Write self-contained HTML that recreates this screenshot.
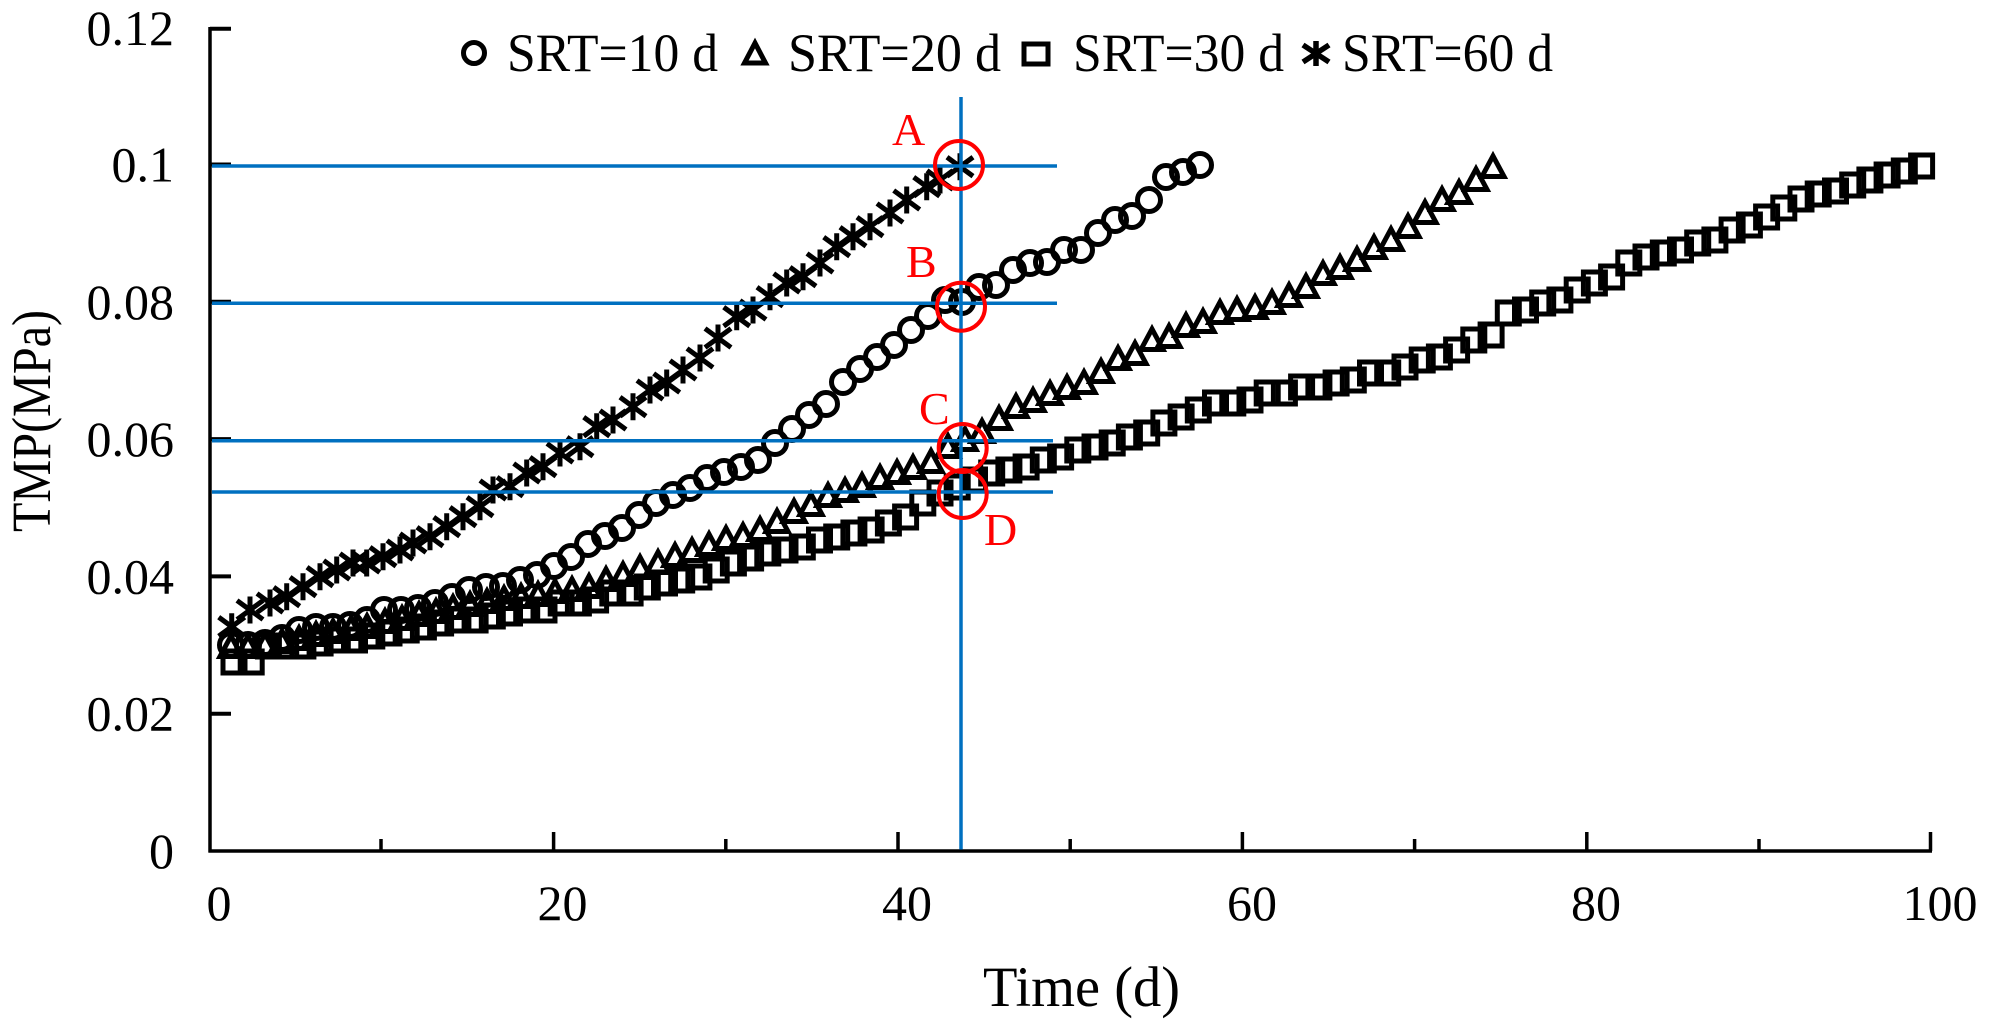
<!DOCTYPE html>
<html>
<head>
<meta charset="utf-8">
<style>
  html, body { margin: 0; padding: 0; background: #fff; }
  svg { display: block; }
  text { font-family: "Liberation Serif", "Times New Roman", serif; fill: #000; }
</style>
</head>
<body>
<svg width="1991" height="1024" viewBox="0 0 1991 1024" xmlns="http://www.w3.org/2000/svg" xmlns:xlink="http://www.w3.org/1999/xlink">
  <rect x="0" y="0" width="1991" height="1024" fill="#fff"/>
  <defs>
    <circle id="c" r="11.5" fill="none" stroke="#000" stroke-width="5"/>
    <path id="t" d="M0,-9 L-11,11.5 L11,11.5 Z" fill="none" stroke="#000" stroke-width="5" stroke-linejoin="miter"/>
    <rect id="s" x="-11" y="-11" width="22" height="22" fill="none" stroke="#000" stroke-width="5"/>
    <path id="a" d="M0,-13.5V13.5M-13,-9.5L13,9.5M-13,9.5L13,-9.5" fill="none" stroke="#000" stroke-width="5"/>
  </defs>

  <!-- Axes -->
  <line x1="210" y1="27" x2="210" y2="852.5" stroke="#000" stroke-width="3.5"/>
  <line x1="208.5" y1="851" x2="1932" y2="851" stroke="#000" stroke-width="3.5"/>
  <!-- Y ticks -->
  <g stroke="#000" stroke-width="4">
    <line x1="210" y1="713.7" x2="231" y2="713.7"/>
    <line x1="210" y1="576.4" x2="231" y2="576.4"/>
    <line x1="210" y1="439.1" x2="231" y2="439.1"/>
    <line x1="210" y1="301.8" x2="231" y2="301.8"/>
    <line x1="210" y1="164.5" x2="231" y2="164.5"/>
    <line x1="210" y1="28.7" x2="231" y2="28.7"/>
  </g>
  <!-- X ticks -->
  <g stroke="#000" stroke-width="3.5">
    <line x1="381" y1="851" x2="381" y2="839"/>
    <line x1="553.6" y1="851" x2="553.6" y2="832"/>
    <line x1="725.8" y1="851" x2="725.8" y2="839"/>
    <line x1="898" y1="851" x2="898" y2="832"/>
    <line x1="1070.2" y1="851" x2="1070.2" y2="839"/>
    <line x1="1242.4" y1="851" x2="1242.4" y2="832"/>
    <line x1="1414.6" y1="851" x2="1414.6" y2="839"/>
    <line x1="1586.8" y1="851" x2="1586.8" y2="832"/>
    <line x1="1759" y1="851" x2="1759" y2="839"/>
    <line x1="1930.5" y1="851" x2="1930.5" y2="832"/>
  </g>

  <!-- Y tick labels -->
  <g font-size="50" text-anchor="end">
    <text x="174" y="868">0</text>
    <text x="174" y="730.7">0.02</text>
    <text x="174" y="593.4">0.04</text>
    <text x="174" y="456.1">0.06</text>
    <text x="174" y="318.8">0.08</text>
    <text x="174" y="181.5">0.1</text>
    <text x="174" y="45.2">0.12</text>
  </g>
  <!-- X tick labels -->
  <g font-size="50" text-anchor="middle">
    <text x="219" y="920">0</text>
    <text x="562.5" y="920">20</text>
    <text x="907" y="920">40</text>
    <text x="1252" y="920">60</text>
    <text x="1596" y="920">80</text>
    <text x="1940" y="920">100</text>
  </g>

  <!-- Axis titles -->
  <text x="983" y="1006" font-size="57" textLength="197" lengthAdjust="spacingAndGlyphs">Time (d)</text>
  <text transform="translate(50,421) rotate(-90)" x="0" y="0" font-size="55" text-anchor="middle" textLength="222" lengthAdjust="spacingAndGlyphs">TMP(MPa)</text>

  <!-- Legend -->
  <circle cx="474" cy="53" r="10.5" fill="none" stroke="#000" stroke-width="5"/>
  <text x="507" y="71" font-size="54" textLength="211" lengthAdjust="spacingAndGlyphs">SRT=10 d</text>
  <path d="M755,43 L744.5,63 L765.5,63 Z" fill="none" stroke="#000" stroke-width="5"/>
  <text x="788" y="71" font-size="54" textLength="213" lengthAdjust="spacingAndGlyphs">SRT=20 d</text>
  <rect x="1024" y="44" width="24" height="20" fill="none" stroke="#000" stroke-width="5"/>
  <text x="1073" y="71" font-size="54" textLength="211" lengthAdjust="spacingAndGlyphs">SRT=30 d</text>
  <path d="M1316,41V66M1303,45L1329,62M1303,62L1329,45" fill="none" stroke="#000" stroke-width="5.5"/>
  <text x="1342" y="71" font-size="54" textLength="211" lengthAdjust="spacingAndGlyphs">SRT=60 d</text>

  <!-- SRT=30 squares -->
  <g>
    <use href="#s" x="234" y="662"/><use href="#s" x="251.2" y="662"/><use href="#s" x="268.4" y="646"/><use href="#s" x="285.7" y="646"/><use href="#s" x="302.9" y="646"/>
    <use href="#s" x="320.1" y="643"/><use href="#s" x="337.3" y="640"/><use href="#s" x="354.5" y="640"/><use href="#s" x="371.8" y="636"/><use href="#s" x="389" y="633"/>
    <use href="#s" x="406.2" y="630"/><use href="#s" x="423.4" y="627"/><use href="#s" x="440.6" y="623"/><use href="#s" x="457.9" y="620"/><use href="#s" x="475.1" y="620"/>
    <use href="#s" x="492.3" y="616"/><use href="#s" x="509.5" y="613"/><use href="#s" x="526.7" y="610"/><use href="#s" x="544" y="610"/><use href="#s" x="561.2" y="603"/>
    <use href="#s" x="578.4" y="603"/><use href="#s" x="595.6" y="600"/><use href="#s" x="612.8" y="593"/><use href="#s" x="630.1" y="593"/><use href="#s" x="647.3" y="587"/>
    <use href="#s" x="664.5" y="583"/><use href="#s" x="681.7" y="580"/><use href="#s" x="698.9" y="577"/><use href="#s" x="716.2" y="570"/><use href="#s" x="733.4" y="563"/>
    <use href="#s" x="750.6" y="558"/><use href="#s" x="767.8" y="553"/><use href="#s" x="785" y="550"/><use href="#s" x="802.3" y="547"/><use href="#s" x="819.5" y="540"/>
    <use href="#s" x="836.7" y="537"/><use href="#s" x="853.9" y="533"/><use href="#s" x="871.1" y="530"/><use href="#s" x="888.4" y="523"/><use href="#s" x="905.6" y="517"/>
    <use href="#s" x="922.8" y="503"/><use href="#s" x="940" y="493"/><use href="#s" x="957.2" y="487"/><use href="#s" x="974.5" y="480"/><use href="#s" x="991.7" y="473"/>
    <use href="#s" x="1008.9" y="470"/><use href="#s" x="1026.1" y="467"/><use href="#s" x="1043.3" y="460"/><use href="#s" x="1060.6" y="457"/><use href="#s" x="1077.8" y="450"/>
    <use href="#s" x="1095" y="447"/><use href="#s" x="1112.2" y="443"/><use href="#s" x="1129.4" y="437"/><use href="#s" x="1146.7" y="433"/><use href="#s" x="1163.9" y="423"/>
    <use href="#s" x="1181.1" y="417"/><use href="#s" x="1198.3" y="410"/><use href="#s" x="1215.5" y="403"/><use href="#s" x="1232.8" y="403"/><use href="#s" x="1250" y="400"/>
    <use href="#s" x="1267.2" y="393"/><use href="#s" x="1284.4" y="393"/><use href="#s" x="1301.6" y="387"/><use href="#s" x="1318.9" y="387"/><use href="#s" x="1336.1" y="383"/>
    <use href="#s" x="1353.3" y="380"/><use href="#s" x="1370.5" y="373"/><use href="#s" x="1387.7" y="373"/><use href="#s" x="1405" y="367"/><use href="#s" x="1422.2" y="360"/>
    <use href="#s" x="1439.4" y="357"/><use href="#s" x="1456.6" y="350"/><use href="#s" x="1473.8" y="340"/><use href="#s" x="1491.1" y="335"/><use href="#s" x="1508.3" y="313"/>
    <use href="#s" x="1525.5" y="310"/><use href="#s" x="1542.7" y="303"/><use href="#s" x="1559.9" y="300"/><use href="#s" x="1577.2" y="290"/><use href="#s" x="1594.4" y="283"/>
    <use href="#s" x="1611.6" y="277"/><use href="#s" x="1628.8" y="263"/><use href="#s" x="1646" y="257"/><use href="#s" x="1663.3" y="253"/><use href="#s" x="1680.5" y="250"/>
    <use href="#s" x="1697.7" y="243"/><use href="#s" x="1714.9" y="240"/><use href="#s" x="1732.1" y="230"/><use href="#s" x="1749.4" y="225"/><use href="#s" x="1766.6" y="217"/>
    <use href="#s" x="1783.8" y="208"/><use href="#s" x="1801" y="199"/><use href="#s" x="1818.2" y="194"/><use href="#s" x="1835.5" y="191"/><use href="#s" x="1852.7" y="185"/>
    <use href="#s" x="1869.9" y="180"/><use href="#s" x="1887.1" y="175"/><use href="#s" x="1904.3" y="171"/><use href="#s" x="1921.6" y="166"/>
  </g>

  <!-- SRT=20 triangles -->
  <g>
    <use href="#t" x="231" y="645"/><use href="#t" x="248" y="645"/><use href="#t" x="265" y="643"/><use href="#t" x="282" y="640"/><use href="#t" x="299" y="637"/>
    <use href="#t" x="316" y="633"/><use href="#t" x="333" y="630"/><use href="#t" x="351" y="627"/><use href="#t" x="367" y="625"/><use href="#t" x="385" y="620"/>
    <use href="#t" x="402" y="617"/><use href="#t" x="419" y="613"/><use href="#t" x="436" y="610"/><use href="#t" x="453" y="606"/><use href="#t" x="470" y="603"/>
    <use href="#t" x="487" y="600"/><use href="#t" x="504" y="597"/><use href="#t" x="521" y="595"/><use href="#t" x="538" y="593"/><use href="#t" x="555" y="590"/>
    <use href="#t" x="572" y="588"/><use href="#t" x="589" y="585"/><use href="#t" x="606" y="578"/><use href="#t" x="623" y="573"/><use href="#t" x="640" y="566"/>
    <use href="#t" x="658" y="561"/><use href="#t" x="675" y="554"/><use href="#t" x="692" y="549"/><use href="#t" x="709" y="543"/><use href="#t" x="726" y="537"/>
    <use href="#t" x="743" y="534"/><use href="#t" x="760" y="528"/><use href="#t" x="777" y="520"/><use href="#t" x="794" y="510"/><use href="#t" x="811" y="503"/>
    <use href="#t" x="828" y="494"/><use href="#t" x="845" y="489"/><use href="#t" x="862" y="484"/><use href="#t" x="880" y="476"/><use href="#t" x="897" y="471"/>
    <use href="#t" x="913" y="466"/><use href="#t" x="931" y="460"/><use href="#t" x="948" y="445"/><use href="#t" x="965" y="438"/><use href="#t" x="982" y="430"/>
    <use href="#t" x="999" y="417"/><use href="#t" x="1016" y="405"/><use href="#t" x="1033" y="399"/><use href="#t" x="1050" y="392"/><use href="#t" x="1067" y="386"/>
    <use href="#t" x="1084" y="381"/><use href="#t" x="1101" y="370"/><use href="#t" x="1118" y="357"/><use href="#t" x="1135" y="352"/><use href="#t" x="1152" y="338"/>
    <use href="#t" x="1169" y="335"/><use href="#t" x="1186" y="324"/><use href="#t" x="1203" y="320"/><use href="#t" x="1220" y="311"/><use href="#t" x="1237" y="308"/>
    <use href="#t" x="1255" y="306"/><use href="#t" x="1272" y="301"/><use href="#t" x="1289" y="294"/><use href="#t" x="1306" y="285"/><use href="#t" x="1323" y="272"/>
    <use href="#t" x="1340" y="266"/><use href="#t" x="1357" y="258"/><use href="#t" x="1374" y="246"/><use href="#t" x="1391" y="238"/><use href="#t" x="1408" y="225"/>
    <use href="#t" x="1425" y="211"/><use href="#t" x="1442" y="198"/><use href="#t" x="1459" y="191"/><use href="#t" x="1476" y="178"/><use href="#t" x="1493" y="165"/>
  </g>

  <!-- SRT=10 circles -->
  <g>
    <use href="#c" x="231" y="645"/><use href="#c" x="248" y="645"/><use href="#c" x="265" y="643"/><use href="#c" x="282" y="638"/><use href="#c" x="299" y="630"/>
    <use href="#c" x="316" y="627"/><use href="#c" x="333" y="627"/><use href="#c" x="350" y="625"/><use href="#c" x="367" y="620"/><use href="#c" x="384" y="610"/>
    <use href="#c" x="401" y="610"/><use href="#c" x="418" y="608"/><use href="#c" x="435" y="603"/><use href="#c" x="452" y="597"/><use href="#c" x="469" y="590"/>
    <use href="#c" x="486" y="587"/><use href="#c" x="503" y="586"/><use href="#c" x="520" y="580"/><use href="#c" x="537" y="575"/><use href="#c" x="554" y="566"/>
    <use href="#c" x="571" y="557"/><use href="#c" x="588" y="544"/><use href="#c" x="605" y="536"/><use href="#c" x="622" y="528"/><use href="#c" x="639" y="515"/>
    <use href="#c" x="656" y="503"/><use href="#c" x="673" y="495"/><use href="#c" x="690" y="488"/><use href="#c" x="707" y="478"/><use href="#c" x="724" y="472"/>
    <use href="#c" x="741" y="467"/><use href="#c" x="758" y="460"/><use href="#c" x="775" y="443"/><use href="#c" x="792" y="429"/><use href="#c" x="809" y="415"/>
    <use href="#c" x="826" y="404"/><use href="#c" x="843" y="382"/><use href="#c" x="860" y="369"/><use href="#c" x="877" y="357"/><use href="#c" x="894" y="345"/>
    <use href="#c" x="911" y="330"/><use href="#c" x="928" y="316"/><use href="#c" x="945" y="300"/><use href="#c" x="962" y="302"/><use href="#c" x="979" y="287"/>
    <use href="#c" x="996" y="285"/><use href="#c" x="1013" y="270"/><use href="#c" x="1030" y="263"/><use href="#c" x="1047" y="262"/><use href="#c" x="1064" y="250"/>
    <use href="#c" x="1081" y="250"/><use href="#c" x="1098" y="233"/><use href="#c" x="1115" y="220"/><use href="#c" x="1132" y="216"/><use href="#c" x="1149" y="200"/>
    <use href="#c" x="1166" y="177"/><use href="#c" x="1183" y="172"/><use href="#c" x="1200" y="165"/>
  </g>

  <!-- SRT=60 asterisks -->
  <g>
    <use href="#a" x="231.7" y="626.7"/><use href="#a" x="250" y="610"/><use href="#a" x="270" y="603"/><use href="#a" x="286.7" y="596.7"/><use href="#a" x="303" y="586.7"/>
    <use href="#a" x="320" y="576.7"/><use href="#a" x="336.7" y="570"/><use href="#a" x="353" y="563"/><use href="#a" x="366.7" y="563"/><use href="#a" x="383" y="556.7"/>
    <use href="#a" x="400" y="550"/><use href="#a" x="413" y="543"/><use href="#a" x="430" y="536.7"/><use href="#a" x="446.7" y="526.7"/><use href="#a" x="463" y="516.7"/>
    <use href="#a" x="480" y="506.7"/><use href="#a" x="493" y="490"/><use href="#a" x="510" y="486.7"/><use href="#a" x="526.7" y="473"/><use href="#a" x="543" y="466.7"/>
    <use href="#a" x="560" y="453"/><use href="#a" x="580" y="446.7"/><use href="#a" x="596.7" y="426.7"/><use href="#a" x="613" y="420"/><use href="#a" x="633" y="406.7"/>
    <use href="#a" x="650" y="390"/><use href="#a" x="666.7" y="383"/><use href="#a" x="683" y="370"/><use href="#a" x="700" y="358"/><use href="#a" x="718" y="338"/>
    <use href="#a" x="736.7" y="316.7"/><use href="#a" x="753" y="310"/><use href="#a" x="770" y="296.7"/><use href="#a" x="786.7" y="283"/><use href="#a" x="803" y="276.7"/>
    <use href="#a" x="820" y="263"/><use href="#a" x="836.7" y="246.7"/><use href="#a" x="853" y="236.7"/><use href="#a" x="870" y="226.7"/><use href="#a" x="890" y="213"/>
    <use href="#a" x="906.7" y="200"/><use href="#a" x="926.7" y="186.7"/><use href="#a" x="940" y="180"/><use href="#a" x="960" y="166.7"/>
  </g>

  <!-- Blue reference lines -->
  <g stroke="#0070C0" stroke-width="3.5">
    <line x1="212" y1="166" x2="1057" y2="166"/>
    <line x1="212" y1="303.3" x2="1057" y2="303.3"/>
    <line x1="212" y1="440.7" x2="1053" y2="440.7"/>
    <line x1="212" y1="492" x2="1053" y2="492"/>
    <line x1="961" y1="97" x2="961" y2="849.5"/>
  </g>

  <!-- Red circles -->
  <g fill="none" stroke="#FF0000" stroke-width="4">
    <circle cx="959" cy="165" r="24"/>
    <circle cx="961" cy="306.7" r="24"/>
    <circle cx="962.7" cy="448" r="24"/>
    <circle cx="962.7" cy="494" r="24"/>
  </g>
  <g font-size="46" style="fill:#FF0000">
    <text x="892" y="145" style="fill:#FF0000">A</text>
    <text x="906" y="277" style="fill:#FF0000">B</text>
    <text x="919" y="424" style="fill:#FF0000">C</text>
    <text x="984" y="545" style="fill:#FF0000">D</text>
  </g>
</svg>
</body>
</html>
